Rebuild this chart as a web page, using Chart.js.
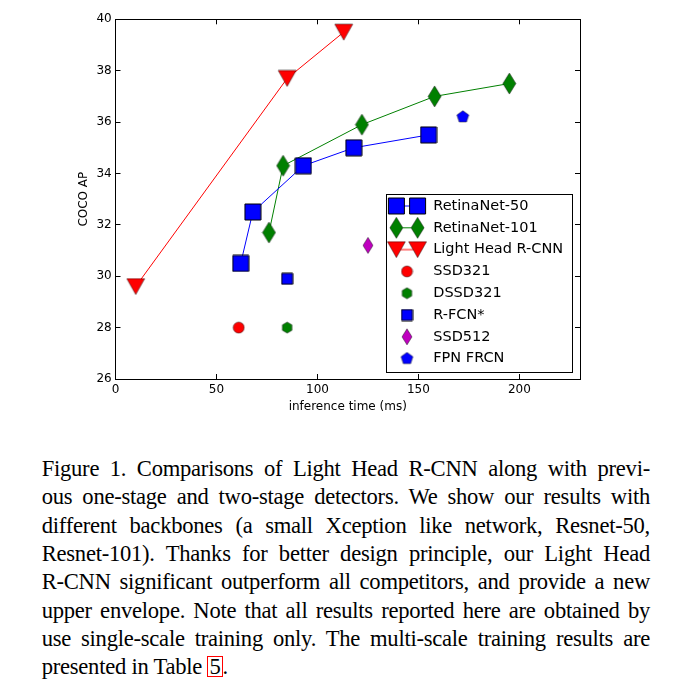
<!DOCTYPE html>
<html>
<head>
<meta charset="utf-8">
<script src="https://cdn.jsdelivr.net/npm/chart.js@4.4.1/dist/chart.umd.min.js"></script>
<style>
  html, body { margin: 0; padding: 0; background: #fff; }
  #wrap { position: absolute; left: 0; top: 0; width: 697px; height: 430px; }
  #caption {
    position: absolute; left: 41.7px; top: 455.2px; width: 608.3px;
    font-family: 'Liberation Serif', 'Times New Roman', serif;
    font-size: 22.6px; line-height: 28.3px; letter-spacing: -0.25px; color: #000;
  }
  #caption div { text-align: justify; text-align-last: justify; }
  #caption div.last { text-align: left; text-align-last: left; }
  .ref {
    display: inline-block; height: 19px; line-height: 19px;
    border: 1px solid #ff0000; padding: 0 1px;
  }
</style>
</head>
<body>
<div id="wrap"><canvas id="chart"></canvas></div>
<div id="caption">
  <div>Figure 1. Comparisons of Light Head R-CNN along with previ-</div>
  <div>ous one-stage and two-stage detectors. We show our results with</div>
  <div>different backbones (a small Xception like network, Resnet-50,</div>
  <div>Resnet-101). Thanks for better design principle, our Light Head</div>
  <div>R-CNN significant outperform all competitors, and provide a new</div>
  <div>upper envelope. Note that all results reported here are obtained by</div>
  <div>use single-scale training only. The multi-scale training results are</div>
  <div class="last">presented in Table <span class="ref">5</span>.</div>
</div>
<script>
// values
const retina50X = [62, 68, 93, 118, 155];
const retina50Y = [30.5, 32.5, 34.3, 35.0, 35.5];
const retina101X = [76, 83, 122, 158, 195];
const retina101Y = [31.7, 34.3, 35.9, 37.0, 37.5];
const lightHeadX = [10, 85, 113];
const lightHeadY = [29.6, 37.7, 39.5];
const lineNames = ['RetinaNet-50', 'RetinaNet-101', 'Light Head R-CNN'];
const singleNames = ['SSD321', 'DSSD321', 'R-FCN*', 'SSD512', 'FPN FRCN'];
const singleX = [61, 85, 85, 125, 172];
const singleY = [28.0, 28.0, 29.9, 31.2, 36.2];
const xTicks = [0, 50, 100, 150, 200];
const yTicks = [26, 28, 30, 32, 34, 36, 38, 40];

function shapePath(g, kind, w, h) {
    g.beginPath();
    if (kind == 'square') {
        g.rect(-w / 2, -h / 2, w, h);
    } else if (kind == 'dia') {
        g.moveTo(0, -h / 2); g.lineTo(w / 2, 0); g.lineTo(0, h / 2); g.lineTo(-w / 2, 0);
    } else if (kind == 'tri') {
        g.moveTo(-w / 2, -h / 2); g.lineTo(w / 2, -h / 2); g.lineTo(0, h / 2);
    } else if (kind == 'circle') {
        g.arc(0, 0, w / 2, 0, Math.PI * 2);
    } else if (kind == 'hex' || kind == 'pent') {
        const n = kind == 'hex' ? 6 : 5;
        for (let i = 0; i < n; i++) {
            const a = -Math.PI / 2 + i * 2 * Math.PI / n;
            const px = Math.cos(a) * w / 2, py = Math.sin(a) * w / 2;
            if (i == 0) g.moveTo(px, py); else g.lineTo(px, py);
        }
    }
    g.closePath();
}

function drawMarker(g, m) {
    shapePath(g, m.kind, m.w, m.h);
    g.fillStyle = m.fill;
    g.fill();
    g.lineWidth = m.lw;
    g.strokeStyle = m.edge;
    g.stroke();
}

// marker image for the plot
function markerImg(m) {
    const c = document.createElement('canvas');
    c.width = Math.ceil(m.w + 2);
    c.height = Math.ceil(m.h + 2);
    const g = c.getContext('2d');
    g.translate(c.width / 2, c.height / 2);
    drawMarker(g, m);
    return c;
}

// marker - line - marker image for the legend
function legendLineImg(m, color) {
    const c = document.createElement('canvas');
    c.width = 42;
    c.height = Math.ceil(m.h + 2);
    const g = c.getContext('2d');
    const cy = c.height / 2;
    g.strokeStyle = color;
    g.lineWidth = 1;
    g.beginPath(); g.moveTo(10.4, cy); g.lineTo(31.6, cy); g.stroke();
    g.save(); g.translate(10.4, cy); drawMarker(g, m); g.restore();
    g.save(); g.translate(31.6, cy); drawMarker(g, m); g.restore();
    return c;
}

const soft = 'rgba(0,0,0,0.55)';
const lineColors = ['#0000ff', '#008000', '#ff0000'];
const lineMarkers = [
    { kind: 'square', w: 16, h: 16, fill: '#0000ff', edge: '#000', lw: 1 },
    { kind: 'dia', w: 13, h: 21, fill: '#008000', edge: soft, lw: 0.8 },
    { kind: 'tri', w: 18, h: 16, fill: '#ff0000', edge: soft, lw: 0.8 }
];
const singleMarkers = [
    { kind: 'circle', w: 11, h: 11, fill: '#ff0000', edge: soft, lw: 0.8 },
    { kind: 'hex', w: 11, h: 11, fill: '#008000', edge: soft, lw: 0.8 },
    { kind: 'square', w: 11, h: 11, fill: '#0000ff', edge: '#000', lw: 1 },
    { kind: 'dia', w: 10, h: 16, fill: '#bf00bf', edge: soft, lw: 0.8 },
    { kind: 'pent', w: 12.5, h: 12, fill: '#0000ff', edge: soft, lw: 0.8 }
];

const lineXs = [retina50X, retina101X, lightHeadX];
const lineYs = [retina50Y, retina101Y, lightHeadY];

let datasets = [];
let legendImgs = [];
for (let i = 0; i < lineNames.length; i++) {
    datasets.push({
        label: lineNames[i],
        data: lineXs[i].map((x, j) => ({ x: x, y: lineYs[i][j] })),
        showLine: true,
        borderColor: lineColors[i],
        backgroundColor: lineColors[i],
        borderWidth: 1,
        pointStyle: markerImg(lineMarkers[i]),
        pointRadius: 8
    });
    legendImgs.push(legendLineImg(lineMarkers[i], lineColors[i]));
}
for (let i = 0; i < singleNames.length; i++) {
    datasets.push({
        label: singleNames[i],
        data: [{ x: singleX[i], y: singleY[i] }],
        showLine: false,
        backgroundColor: singleMarkers[i].fill,
        pointStyle: markerImg(singleMarkers[i]),
        pointRadius: 6
    });
    legendImgs.push(markerImg(singleMarkers[i]));
}

const axisFont = { family: 'DejaVu Sans', size: 12 };
const legendFont = { family: 'DejaVu Sans', size: 14.5 };
const legendPad = 7.3;

// put the legend box in the lower right of the axes and frame it
const legendBoxPlugin = {
    id: 'legendBox',
    afterLayout(chart) {
        const lg = chart.legend;
        lg.left = 388 - legendPad;
        lg.right = 580;
        lg.top = 206 - 7.25 - legendPad;
        lg.bottom = 386;
        lg.width = lg.right - lg.left;
        lg.height = lg.bottom - lg.top;
    },
    afterDraw(chart) {
        const ctx = chart.ctx;
        ctx.save();
        ctx.strokeStyle = '#000';
        ctx.lineWidth = 1;
        ctx.strokeRect(386.5, 194.5, 186, 178);
        ctx.restore();
    }
};

const tickGrid = { drawOnChartArea: false, tickLength: -5, color: '#000', tickColor: '#000' };
const edge = { color: '#000', width: 1 };

new Chart(document.getElementById('chart').getContext('2d'), {
    type: 'scatter',
    data: { datasets: datasets },
    options: {
        responsive: true,
        maintainAspectRatio: false,
        animation: false,
        layout: { padding: { left: 76.8, right: 117, top: 19.3, bottom: 16.3 } },
        scales: {
            x: {
                type: 'linear', position: 'bottom', min: 0, max: 230,
                afterBuildTicks: s => { s.ticks = xTicks.map(v => ({ value: v })); },
                afterFit: s => { s.height = 34.7; },
                ticks: { font: axisFont, color: '#000', padding: 8.3 },
                grid: tickGrid,
                border: edge,
                title: { display: true, text: 'inference time (ms)', font: axisFont, color: '#000', padding: 0 }
            },
            x2: {
                type: 'linear', position: 'top', min: 0, max: 230,
                afterBuildTicks: s => { s.ticks = xTicks.map(v => ({ value: v })); },
                afterFit: s => { s.height = 0; },
                ticks: { display: false },
                grid: tickGrid,
                border: edge
            },
            y: {
                type: 'linear', position: 'left', min: 26, max: 40,
                afterBuildTicks: s => { s.ticks = yTicks.map(v => ({ value: v })); },
                afterFit: s => { s.width = 38.7; },
                ticks: { font: axisFont, color: '#000', padding: 8.8 },
                grid: tickGrid,
                border: edge,
                title: { display: true, text: 'COCO AP', font: axisFont, color: '#000', padding: 0 }
            },
            y2: {
                type: 'linear', position: 'right', min: 26, max: 40,
                afterBuildTicks: s => { s.ticks = yTicks.map(v => ({ value: v })); },
                afterFit: s => { s.width = 0; },
                ticks: { display: false },
                grid: tickGrid,
                border: edge
            }
        },
        plugins: {
            tooltip: { enabled: false },
            legend: {
                position: 'chartArea',
                align: 'start',
                labels: {
                    usePointStyle: true,
                    pointStyleWidth: 38,
                    padding: legendPad,
                    font: legendFont,
                    color: '#000',
                    generateLabels: chart => chart.data.datasets.map((ds, i) => ({
                        text: ds.label,
                        pointStyle: legendImgs[i],
                        fillStyle: ds.backgroundColor,
                        strokeStyle: ds.backgroundColor,
                        lineWidth: 0,
                        hidden: false,
                        datasetIndex: i
                    }))
                }
            }
        }
    },
    plugins: [legendBoxPlugin]
});
</script>
</body>
</html>
